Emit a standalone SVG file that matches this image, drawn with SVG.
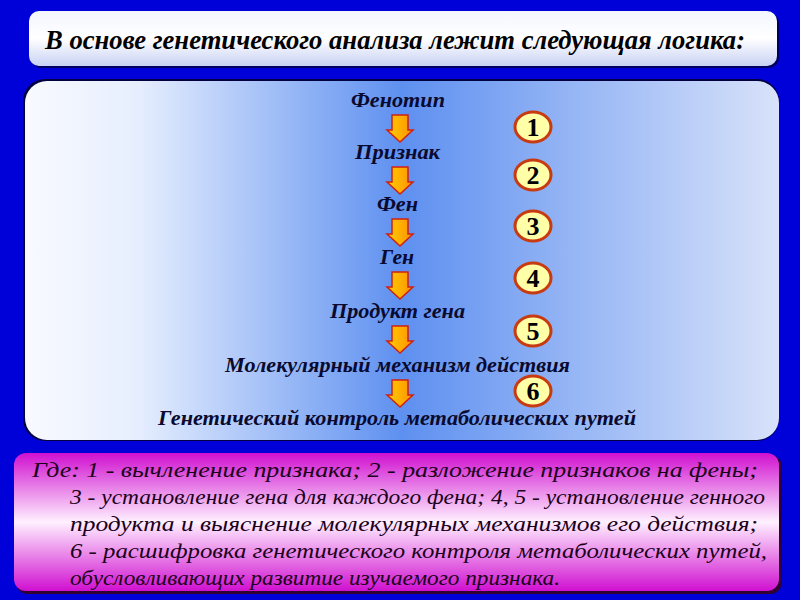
<svg xmlns="http://www.w3.org/2000/svg" width="800" height="600" viewBox="0 0 800 600">
<defs>
<linearGradient id="gTitle" x1="0" y1="0" x2="0" y2="1">
<stop offset="0" stop-color="#f4f6ff"/><stop offset="0.5" stop-color="#ffffff"/><stop offset="1" stop-color="#c8d2f4"/>
</linearGradient>
<linearGradient id="gMid" x1="0" y1="0" x2="1" y2="0">
<stop offset="0" stop-color="#f8faff"/><stop offset="0.15" stop-color="#e6eefe"/><stop offset="0.5" stop-color="#5e90f0"/><stop offset="1" stop-color="#d8e2fa"/>
</linearGradient>
<linearGradient id="gBot" x1="0" y1="0" x2="0" y2="1">
<stop offset="0" stop-color="#d010d0"/><stop offset="0.5" stop-color="#fff0ff"/><stop offset="1" stop-color="#d010d0"/>
</linearGradient>
<linearGradient id="gArrow" x1="0" y1="0" x2="1" y2="0">
<stop offset="0" stop-color="#ffcc00"/><stop offset="0.5" stop-color="#ffb000"/><stop offset="1" stop-color="#ff9000"/>
</linearGradient>
<path id="arrow" d="M-8,0 H8 V15 H13 L0,27 L-13,15 H-8 Z"/>
<style>
.step{font-family:"Liberation Serif",serif;font-weight:bold;font-style:italic;font-size:20px;fill:#0a0a30}
.num{font-family:"Liberation Serif",serif;font-weight:bold;font-size:26px;fill:#000;text-anchor:middle}
.circ{fill:#ffffa8;stroke:#c83a10;stroke-width:3}
.arr{fill:url(#gArrow);stroke:#d02010;stroke-width:1.5}
.note{font-family:"Liberation Serif",serif;font-style:italic;font-size:21px;fill:#1a001a}
</style>
</defs>
<rect width="800" height="600" fill="#0000d8"/>
<g id="title">
<rect x="31" y="13" width="748" height="55" rx="10" fill="#000060"/>
<rect x="29" y="11" width="748" height="55" rx="10" fill="url(#gTitle)"/>
<text x="45" y="49" textLength="700" lengthAdjust="spacingAndGlyphs" style="font-family:'Liberation Serif',serif;font-weight:bold;font-style:italic;font-size:28px;fill:#000">В основе генетического анализа лежит следующая логика:</text>
</g>
<g id="panel">
<rect x="23" y="79" width="756" height="362" rx="22" fill="#000040"/>
<rect x="25" y="81" width="754" height="359" rx="22" fill="url(#gMid)"/>
</g>
<g id="steps">
<g id="s1"><text class="step" x="351" y="107" textLength="94" lengthAdjust="spacingAndGlyphs">Фенотип</text></g>
<g id="s2"><text class="step" x="355" y="159" textLength="85" lengthAdjust="spacingAndGlyphs">Признак</text></g>
<g id="s3"><text class="step" x="377" y="211" textLength="41" lengthAdjust="spacingAndGlyphs">Фен</text></g>
<g id="s4"><text class="step" x="380" y="264" textLength="34" lengthAdjust="spacingAndGlyphs">Ген</text></g>
<g id="s5"><text class="step" x="330" y="318" textLength="135" lengthAdjust="spacingAndGlyphs">Продукт гена</text></g>
<g id="s6"><text class="step" x="225" y="372" textLength="345" lengthAdjust="spacingAndGlyphs">Молекулярный механизм действия</text></g>
<g id="s7"><text class="step" x="158" y="425" textLength="478" lengthAdjust="spacingAndGlyphs">Генетический контроль метаболических путей</text></g>
</g>
<g id="connectors">
<use href="#arrow" class="arr" x="400" y="115"/>
<use href="#arrow" class="arr" x="400" y="167"/>
<use href="#arrow" class="arr" x="400" y="219"/>
<use href="#arrow" class="arr" x="400" y="272"/>
<use href="#arrow" class="arr" x="400" y="326"/>
<use href="#arrow" class="arr" x="400" y="380"/>
</g>
<g id="numbers">
<g id="n1"><ellipse class="circ" cx="533" cy="127" rx="18" ry="15"/><text class="num" x="533" y="136">1</text></g>
<g id="n2"><ellipse class="circ" cx="533" cy="175" rx="18" ry="15"/><text class="num" x="533" y="184">2</text></g>
<g id="n3"><ellipse class="circ" cx="533" cy="226" rx="18" ry="15"/><text class="num" x="533" y="235">3</text></g>
<g id="n4"><ellipse class="circ" cx="533" cy="278" rx="18" ry="15"/><text class="num" x="533" y="287">4</text></g>
<g id="n5"><ellipse class="circ" cx="533" cy="331" rx="18" ry="15"/><text class="num" x="533" y="340">5</text></g>
<g id="n6"><ellipse class="circ" cx="533" cy="391" rx="18" ry="15"/><text class="num" x="533" y="400">6</text></g>
</g>
<g id="legend">
<rect x="16" y="455" width="766" height="139" rx="12" fill="#300030"/>
<rect x="14" y="453" width="765" height="138" rx="12" fill="url(#gBot)"/>
<text class="note" x="32" y="477" textLength="726" lengthAdjust="spacingAndGlyphs">Где:  1  -  вычленение  признака;  2  -  разложение  признаков  на  фены;</text>
<text class="note" x="70" y="504" textLength="695" lengthAdjust="spacingAndGlyphs">3 - установление гена для каждого фена; 4, 5 - установление генного</text>
<text class="note" x="70" y="531" textLength="688" lengthAdjust="spacingAndGlyphs">продукта  и  выяснение  молекулярных  механизмов  его  действия;</text>
<text class="note" x="70" y="558" textLength="697" lengthAdjust="spacingAndGlyphs">6  -  расшифровка  генетического  контроля  метаболических  путей,</text>
<text class="note" x="70" y="585" textLength="490" lengthAdjust="spacingAndGlyphs">обусловливающих развитие изучаемого признака.</text>
</g>
</svg>
